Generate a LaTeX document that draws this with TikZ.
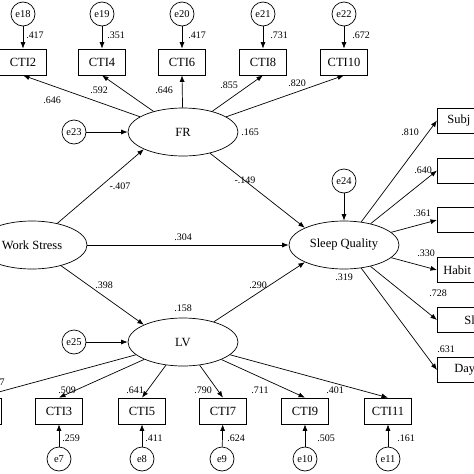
\documentclass[tikz,border=0pt]{standalone}
\usepackage{fontspec}
\setmainfont{Liberation Serif}
\usetikzlibrary{arrows.meta}
\usetikzlibrary{shapes}

\begin{document}
\begin{tikzpicture}[x=1pt,y=-1pt,line width=0.7pt,
arr/.style={-{Latex[length=6.5pt,width=5pt]}},
err/.style={circle,draw,minimum size=24pt,inner sep=0pt,font=\fontsize{10.5}{10}\selectfont},
obs/.style={rectangle,draw,minimum width=47pt,minimum height=26pt,inner sep=0pt,font=\fontsize{12.5}{12}\selectfont},
lat/.style={ellipse,draw,minimum width=110pt,minimum height=48pt,inner sep=0pt,font=\fontsize{12.5}{12}\selectfont},
rbox/.style={rectangle,draw,minimum width=90pt,minimum height=25pt,anchor=west},
rtxt/.style={anchor=west,inner sep=0pt,font=\fontsize{12.5}{12}\selectfont},
coef/.style={inner sep=0pt,font=\fontsize{10}{10}\selectfont}]
\useasboundingbox (0,0) rectangle (474,474);
\clip (0,0) rectangle (474,474);
\node[err] (e18) at (23,14) {e18};
\node[err] (e19) at (102,14) {e19};
\node[err] (e20) at (182,14) {e20};
\node[err] (e21) at (263,14) {e21};
\node[err] (e22) at (344,14) {e22};
\node[obs] (CTI2) at (23,62) {CTI2};
\node[obs] (CTI4) at (102,62) {CTI4};
\node[obs] (CTI6) at (182,62) {CTI6};
\node[obs] (CTI8) at (263,62) {CTI8};
\node[obs] (CTI10) at (344,62) {CTI10};
\node[lat] (FR) at (183,132) {FR};
\node[err] (e23) at (74,132) {e23};
\node[lat] (WS) at (32,245) {Work Stress};
\node[lat] (SQ) at (344,245) {Sleep Quality};
\node[err] (e24) at (344,181) {e24};
\node[lat] (LV) at (183,342) {LV};
\node[err] (e25) at (74,342) {e25};
\node[obs] (CTI1) at (-22,411) {};
\node[obs] (CTI3) at (59,411) {CTI3};
\node[obs] (CTI5) at (142,411) {CTI5};
\node[obs] (CTI7) at (223,411) {CTI7};
\node[obs] (CTI9) at (305,411) {CTI9};
\node[obs] (CTI11) at (388,411) {CTI11};
\node[err] (e7) at (59,459) {e7};
\node[err] (e8) at (142,459) {e8};
\node[err] (e9) at (222,459) {e9};
\node[err] (e10) at (305,459) {e10};
\node[err] (e11) at (388,459) {e11};
\node[rbox] (P1) at (437,120.5) {};
\node[rbox] (P2) at (437,170.5) {};
\node[rbox] (P3) at (437,220) {};
\node[rbox] (P4) at (437,270) {};
\node[rbox] (P5) at (437,320) {};
\node[rbox] (P6) at (437,370) {};
\node[rtxt] (t1) at ([xshift=10pt]P1.west) {Subj};
\node[rtxt] (t4) at ([xshift=6pt]P4.west) {Habit};
\node[rtxt] (t5) at ([xshift=27pt]P5.west) {Sl};
\node[rtxt] (t6) at ([xshift=17pt]P6.west) {Day};

\draw[arr] (e18) -- (CTI2);
\draw[arr] (e19) -- (CTI4);
\draw[arr] (e20) -- (CTI6);
\draw[arr] (e21) -- (CTI8);
\draw[arr] (e22) -- (CTI10);
\draw[arr] (FR) -- (CTI2.south);
\draw[arr] (FR) -- (CTI4.south);
\draw[arr] (FR) -- (CTI6.south);
\draw[arr] (FR) -- (CTI8.south);
\draw[arr] (FR) -- (CTI10.south);
\draw[arr] (e23) -- (FR);
\draw[arr] (e24) -- (SQ);
\draw[arr] (e25) -- (LV);
\draw[arr] (WS) -- (FR.south west);
\draw[arr] (WS) -- (SQ);
\draw[arr] (WS) -- (LV.north west);
\draw[arr] (FR) -- (SQ.north west);
\draw[arr] (LV) -- (SQ.south west);
\draw[arr] (LV) -- (CTI1.north);
\draw[arr] (LV) -- (CTI3.north);
\draw[arr] (LV) -- (CTI5.north);
\draw[arr] (LV) -- (CTI7.north);
\draw[arr] (LV) -- (CTI9.north);
\draw[arr] (LV) -- (CTI11.north);
\draw[arr] (e7) -- (CTI3);
\draw[arr] (e8) -- (CTI5);
\draw[arr] (e9) -- (CTI7);
\draw[arr] (e10) -- (CTI9);
\draw[arr] (e11) -- (CTI11);
\draw[arr] (SQ) -- (P1.west);
\draw[arr] (SQ) -- (P2.west);
\draw[arr] (SQ) -- (P3.west);
\draw[arr] (SQ) -- (P4.west);
\draw[arr] (SQ) -- (P5.west);
\draw[arr] (SQ) -- (P6.west);

\node[coef] (c18) at (35,35) {.417};
\node[coef] (c19) at (116,35) {.351};
\node[coef] (c20) at (197,35) {.417};
\node[coef] (c21) at (279,35) {.731};
\node[coef] (c22) at (361,35) {.672};
\node[coef] (f2) at (52,100) {.646};
\node[coef] (f4) at (99,90) {.592};
\node[coef] (f6) at (164,90) {.646};
\node[coef] (f8) at (229,85) {.855};
\node[coef] (f10) at (297,83) {.820};
\node[coef] (rFR) at (250,132) {.165};
\node[coef] (bFR) at (120,186) {-.407};
\node[coef] (bFS) at (245,180) {-.149};
\node[coef] (bWS) at (183,237) {.304};
\node[coef] (bLV) at (104,285) {.398};
\node[coef] (bLS) at (258,285) {.290};
\node[coef] (rLV) at (183,308) {.158};
\node[coef] (rSQ) at (344,277) {.319};
\node[coef, anchor=east] (l1) at (5,382) {7};
\node[coef] (l3) at (67,390) {.509};
\node[coef] (l5) at (135,390) {.641};
\node[coef] (l7) at (203,390) {.790};
\node[coef] (l9) at (260,390) {.711};
\node[coef] (l11) at (335,390) {.401};
\node[coef] (c7) at (71,438) {.259};
\node[coef] (c8) at (154,438) {.411};
\node[coef] (c9) at (236,438) {.624};
\node[coef] (c10) at (326,438) {.505};
\node[coef] (c11) at (406,438) {.161};
\node[coef] (p1) at (410,132) {.810};
\node[coef] (p2) at (423,170) {.640};
\node[coef] (p3) at (422,213) {.361};
\node[coef] (p4) at (426,253) {.330};
\node[coef] (p5) at (438,293) {.728};
\node[coef] (p6) at (446,349) {.631};
\end{tikzpicture}
\end{document}
